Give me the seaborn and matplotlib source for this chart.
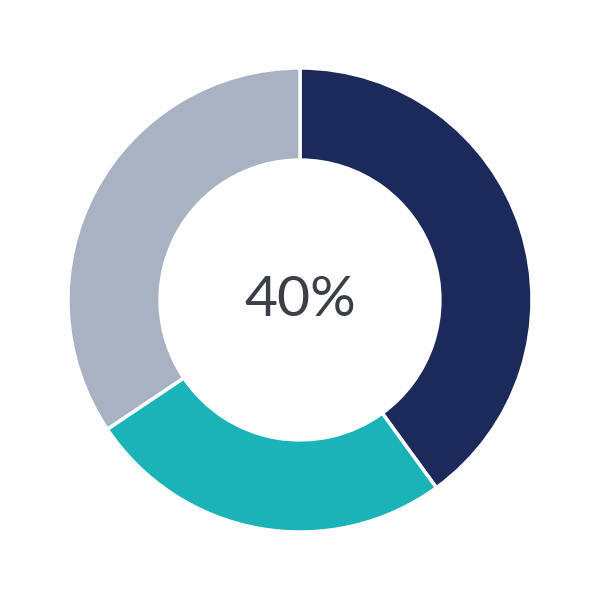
import matplotlib
matplotlib.use("Agg")
import matplotlib.pyplot as plt
import seaborn as sns

# slice shares, clockwise from 12 o'clock
labels = ["Navy", "Teal", "Gray"]
values = [40, 25.6, 34.4]
colors = ["#1b2a5a", "#1ab3b8", "#a8b2c2"]
center_label = "40%"

sns.set_theme(style="white")
plt.rcParams['font.family'] = ['Lato', 'DejaVu Sans']

fig = plt.figure(figsize=(6, 6), dpi=100)
ax = fig.add_axes([0, 0, 1, 1])

ax.pie(values,
       colors=sns.color_palette(colors),
       startangle=90,
       counterclock=False,
       radius=1.0,
       wedgeprops={'width': 0.397, 'edgecolor': 'white', 'linewidth': 2.5})

ax.text(0, 0, center_label, ha='center', va='center',
        fontsize=41, color='#3b4048')

ax.set_xlim(-1.293, 1.293)
ax.set_ylim(-1.293, 1.293)
ax.set_aspect('equal')
ax.axis('off')

fig.savefig("out.png", dpi=100, facecolor='white')
